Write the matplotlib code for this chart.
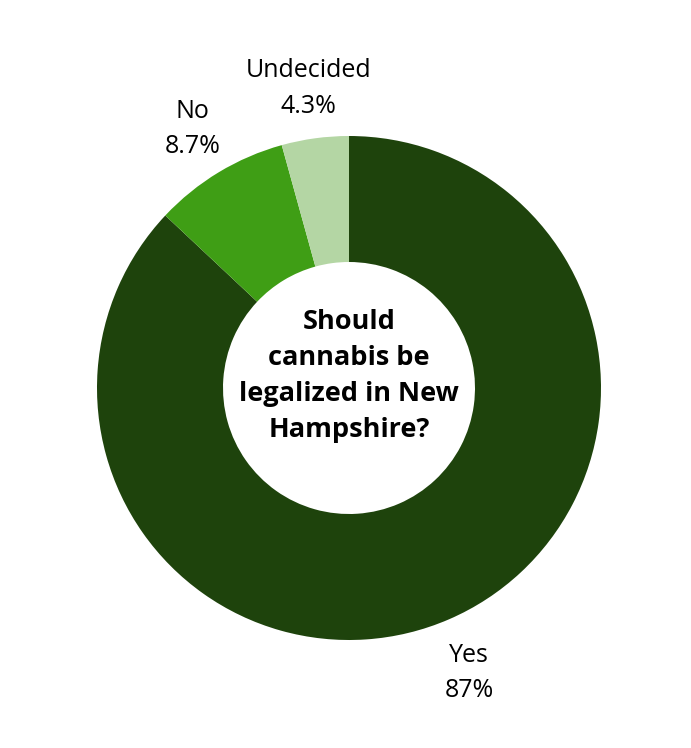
import matplotlib
matplotlib.use("Agg")
import matplotlib.pyplot as plt

labels = ["Yes", "No", "Undecided"]
shares = [87, 8.7, 4.3]
pct_text = ["87%", "8.7%", "4.3%"]
colors = ["#1e430c", "#3f9e15", "#b4d6a4"]
question = "Should\ncannabis be\nlegalized in New\nHampshire?"

plt.rcParams["font.family"] = ["Open Sans", "DejaVu Sans"]

fig = plt.figure(figsize=(6.91, 7.48), dpi=100)
ax = fig.add_axes([0, 0, 1, 1])

pie_labels = [f"{l}\n{p}" for l, p in zip(labels, pct_text)]
wedges, texts = ax.pie(shares, labels=pie_labels, colors=colors, startangle=90,
                       counterclock=False, labeldistance=1.2,
                       wedgeprops=dict(width=0.5, linewidth=0),
                       textprops=dict(fontsize=18, ha="center", va="center",
                                      linespacing=1.55))
# the Yes label sits a little lower in the original
texts[0].set_position((texts[0].get_position()[0], texts[0].get_position()[1] - 0.03))

ax.text(0, 0.048, question, ha="center", va="center", fontsize=19.5,
        fontweight="bold", linespacing=1.5)

# centre the donut at the same pixel spot as the original
ax.set_aspect("auto")
ax.set_xlim(-349 / 252, 342 / 252)
ax.set_ylim(-360 / 252, 388 / 252)
ax.axis("off")

fig.savefig("out.png", dpi=100)
